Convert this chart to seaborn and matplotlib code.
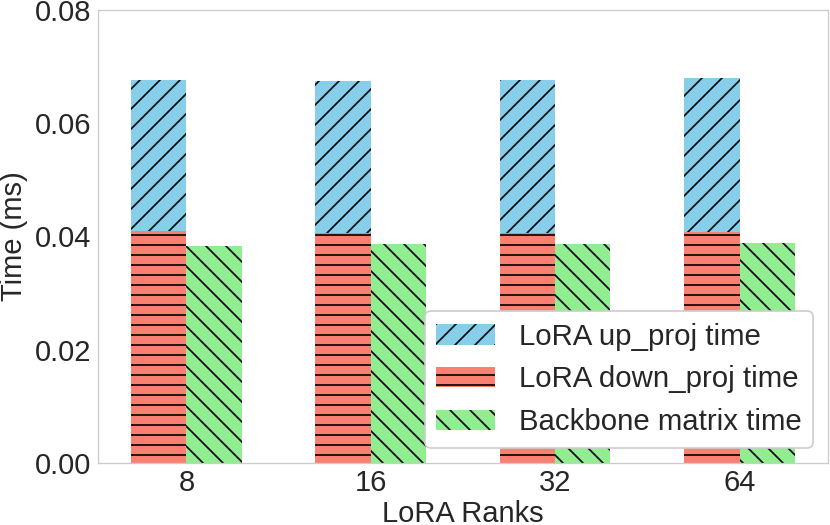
import matplotlib
matplotlib.use("Agg")
import matplotlib.pyplot as plt
import matplotlib.patches as mpatches
import seaborn as sns
import pandas as pd

ranks = ["8", "16", "32", "64"]
down_proj = [0.0410, 0.0406, 0.0405, 0.0408]
up_proj = [0.0266, 0.0269, 0.0271, 0.0272]
backbone = [0.0383, 0.0386, 0.0386, 0.0388]

labels = ["LoRA up_proj time", "LoRA down_proj time", "Backbone matrix time"]
colors = ["skyblue", "salmon", "lightgreen"]
hatches = ["//", "--", "\\\\"]

FS = 17.5

sns.set_style("whitegrid")
plt.rcParams["font.family"] = ["Liberation Sans", "DejaVu Sans"]
plt.rcParams["font.size"] = FS
plt.rcParams["hatch.color"] = "black"

fig = plt.figure(figsize=(830 / 120, 525 / 120), dpi=120)
ax = fig.add_axes([0.118, 0.1187, 0.8796, 0.8623])

totals = [d + u for d, u in zip(down_proj, up_proj)]
df_top = pd.DataFrame({
    "rank": ranks * 2,
    "group": ["LoRA"] * 4 + ["Backbone"] * 4,
    "value": totals + backbone,
})
df_down = pd.DataFrame({
    "rank": ranks * 2,
    "group": ["LoRA"] * 4 + ["Backbone"] * 4,
    "value": down_proj + backbone,
})

sns.barplot(data=df_top, x="rank", y="value", hue="group", order=ranks,
            hue_order=["LoRA", "Backbone"], palette=[colors[0], colors[2]],
            width=0.6, errorbar=None, ax=ax, edgecolor="black", linewidth=0,
            saturation=1, legend=False)
sns.barplot(data=df_down, x="rank", y="value", hue="group", order=ranks,
            hue_order=["LoRA", "Backbone"], palette=[colors[1], colors[2]],
            width=0.6, errorbar=None, ax=ax, edgecolor="black", linewidth=0,
            saturation=1, legend=False)

conts = ax.containers
for bar in conts[0]:
    bar.set_hatch(hatches[0])
for bar in conts[1]:
    bar.set_hatch(hatches[2])
for bar in conts[2]:
    bar.set_hatch(hatches[1])
for bar in conts[3]:
    bar.set_hatch(hatches[2])

ax.grid(False)
ax.set_xlim(-0.48, 3.48)
ax.set_ylim(0, 0.08)
ax.set_yticks([0.0, 0.02, 0.04, 0.06, 0.08])
ax.set_xlabel("LoRA Ranks", fontsize=FS, labelpad=1.5)
ax.set_ylabel("Time (ms)", fontsize=FS, labelpad=4)
ax.tick_params(labelsize=FS, length=0, pad=4)

handles = [mpatches.Patch(facecolor=c, hatch=h, edgecolor="black", linewidth=0, label=l)
           for c, h, l in zip(colors, hatches, labels)]
ax.legend(handles=handles, loc="lower right", fontsize=17.65, frameon=True,
          framealpha=1)

fig.savefig("out.png", dpi=120)
